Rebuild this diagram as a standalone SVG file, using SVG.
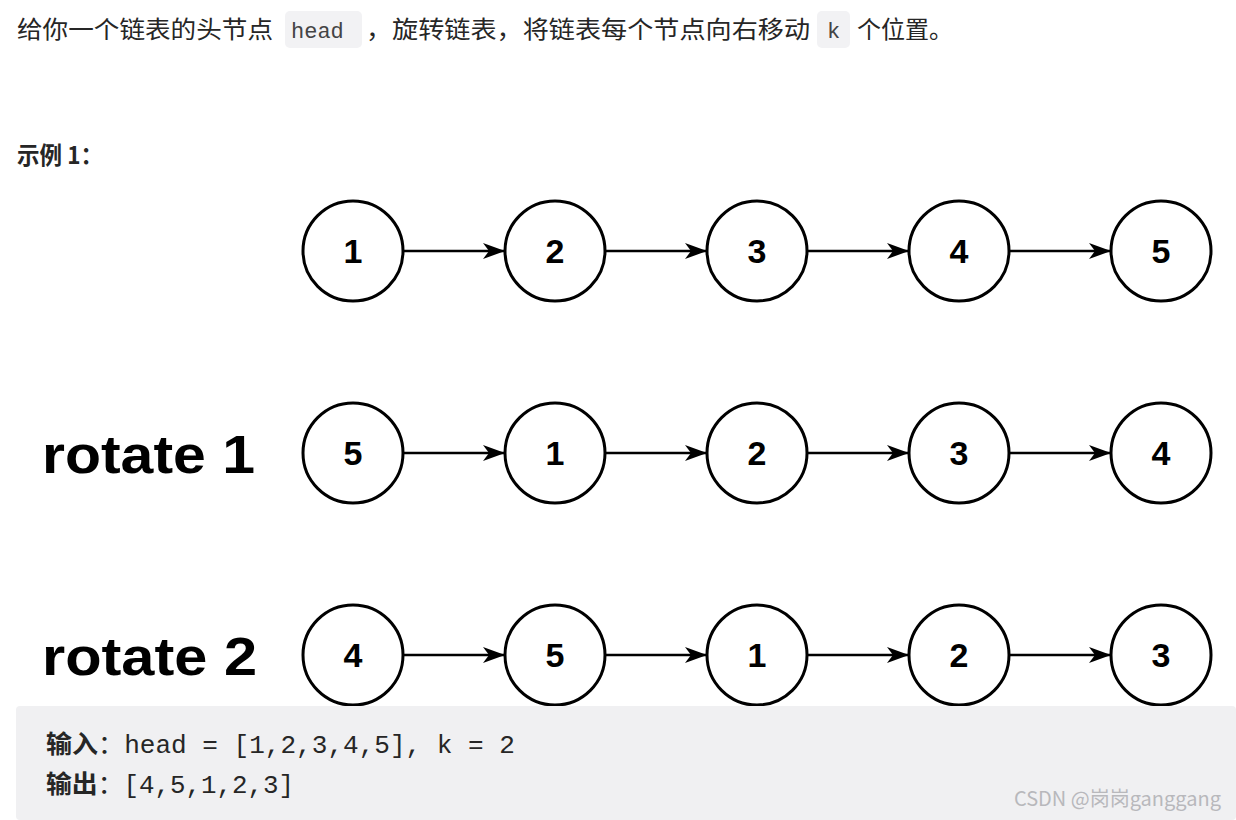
<svg xmlns="http://www.w3.org/2000/svg" width="1236" height="820" viewBox="0 0 1236 820">
<style>
.cn{font-family:"Noto Sans CJK SC","Noto Sans",sans-serif;fill:#262626;font-size:24px}
.code{font-family:"Liberation Mono","Noto Sans CJK SC",monospace}
.n circle{fill:#fff;stroke:#000;stroke-width:3}
.n text{font-family:"Liberation Sans",Arial,sans-serif;font-weight:bold;font-size:34px;text-anchor:middle;fill:#000}
.lbl{font-family:"Liberation Sans",Arial,sans-serif;font-weight:bold;font-size:54px;fill:#000}
#edges line{stroke:#000;stroke-width:2.5}
</style>
<defs>
<marker id="ah2" markerWidth="22" markerHeight="16" refX="22" refY="8" orient="auto" markerUnits="userSpaceOnUse"><path d="M0,0 L22,8 L0,16 L6,8 Z" fill="#000"/></marker></defs>
<rect width="1236" height="820" fill="#fff"/>
<text class="cn" x="17" y="38" textLength="256" lengthAdjust="spacingAndGlyphs">给你一个链表的头节点</text>
<rect x="285" y="11" width="77" height="37" rx="5" fill="#f2f2f4"/>
<text class="code" x="291" y="38" font-size="22" fill="#444">head</text>
<text class="cn" x="366" y="38" textLength="444" lengthAdjust="spacingAndGlyphs">，旋转链表，将链表每个节点向右移动</text>
<rect x="817" y="11" width="33" height="37" rx="5" fill="#f2f2f4"/>
<text class="code" x="827" y="38" font-size="22" fill="#444">k</text>
<text class="cn" x="857" y="38" textLength="96" lengthAdjust="spacingAndGlyphs">个位置。</text>
<text class="cn" x="17" y="164" font-weight="bold" textLength="86" lengthAdjust="spacingAndGlyphs">示例 1：</text>
<text class="lbl" x="42" y="473" textLength="213" lengthAdjust="spacingAndGlyphs">rotate 1</text>
<text class="lbl" x="42" y="675" textLength="215" lengthAdjust="spacingAndGlyphs">rotate 2</text>
<g id="edges">
<line x1="403" y1="251" x2="505" y2="251" marker-end="url(#ah2)"/><line x1="605" y1="251" x2="707" y2="251" marker-end="url(#ah2)"/><line x1="807" y1="251" x2="909" y2="251" marker-end="url(#ah2)"/><line x1="1009" y1="251" x2="1111" y2="251" marker-end="url(#ah2)"/>
<line x1="403" y1="453" x2="505" y2="453" marker-end="url(#ah2)"/><line x1="605" y1="453" x2="707" y2="453" marker-end="url(#ah2)"/><line x1="807" y1="453" x2="909" y2="453" marker-end="url(#ah2)"/><line x1="1009" y1="453" x2="1111" y2="453" marker-end="url(#ah2)"/>
<line x1="403" y1="655" x2="505" y2="655" marker-end="url(#ah2)"/><line x1="605" y1="655" x2="707" y2="655" marker-end="url(#ah2)"/><line x1="807" y1="655" x2="909" y2="655" marker-end="url(#ah2)"/><line x1="1009" y1="655" x2="1111" y2="655" marker-end="url(#ah2)"/>
</g>
<g id="r0a" class="n"><circle cx="353" cy="251" r="50"/><text x="353" y="263">1</text></g>
<g id="r0b" class="n"><circle cx="555" cy="251" r="50"/><text x="555" y="263">2</text></g>
<g id="r0c" class="n"><circle cx="757" cy="251" r="50"/><text x="757" y="263">3</text></g>
<g id="r0d" class="n"><circle cx="959" cy="251" r="50"/><text x="959" y="263">4</text></g>
<g id="r0e" class="n"><circle cx="1161" cy="251" r="50"/><text x="1161" y="263">5</text></g>
<g id="r1a" class="n"><circle cx="353" cy="453" r="50"/><text x="353" y="465">5</text></g>
<g id="r1b" class="n"><circle cx="555" cy="453" r="50"/><text x="555" y="465">1</text></g>
<g id="r1c" class="n"><circle cx="757" cy="453" r="50"/><text x="757" y="465">2</text></g>
<g id="r1d" class="n"><circle cx="959" cy="453" r="50"/><text x="959" y="465">3</text></g>
<g id="r1e" class="n"><circle cx="1161" cy="453" r="50"/><text x="1161" y="465">4</text></g>
<g id="r2a" class="n"><circle cx="353" cy="655" r="50"/><text x="353" y="667">4</text></g>
<g id="r2b" class="n"><circle cx="555" cy="655" r="50"/><text x="555" y="667">5</text></g>
<g id="r2c" class="n"><circle cx="757" cy="655" r="50"/><text x="757" y="667">1</text></g>
<g id="r2d" class="n"><circle cx="959" cy="655" r="50"/><text x="959" y="667">2</text></g>
<g id="r2e" class="n"><circle cx="1161" cy="655" r="50"/><text x="1161" y="667">3</text></g>
<rect x="16" y="706" width="1220" height="114" rx="4" fill="#f0f0f2"/>
<text x="46" y="753" font-size="25" class="code" fill="#262626" textLength="469" lengthAdjust="spacingAndGlyphs"><tspan font-family="Noto Sans CJK SC,sans-serif" font-weight="bold">输入</tspan>：head = [1,2,3,4,5], k = 2</text>
<text x="46" y="793" font-size="25" class="code" fill="#262626" textLength="248" lengthAdjust="spacingAndGlyphs"><tspan font-family="Noto Sans CJK SC,sans-serif" font-weight="bold">输出</tspan>：[4,5,1,2,3]</text>
<text x="1221" y="806" text-anchor="end" font-family="Noto Sans CJK SC,sans-serif" font-size="20" fill="#b8b8bc">CSDN @岗岗ganggang</text>
</svg>
